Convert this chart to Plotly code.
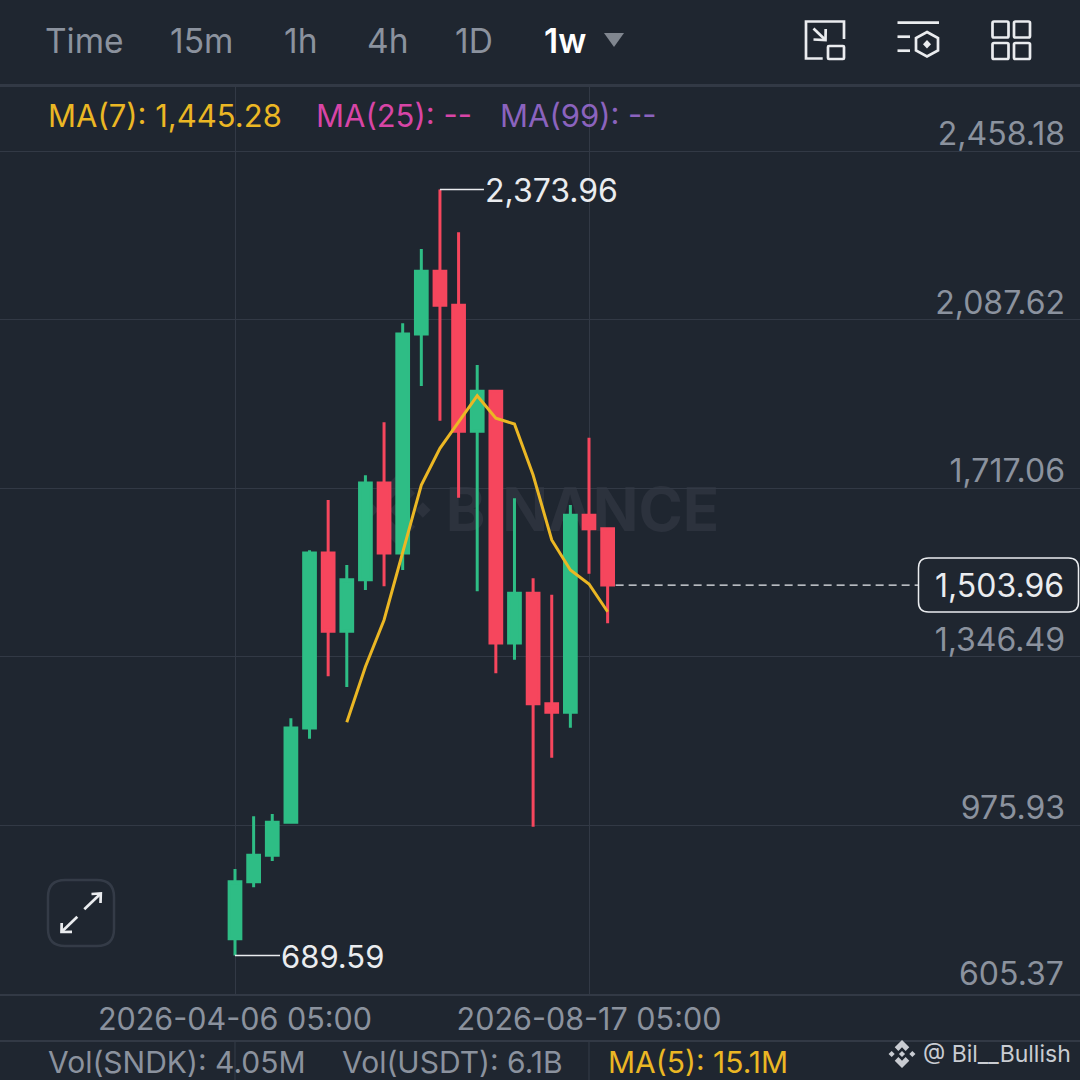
import pandas as pd
import plotly.graph_objects as go

dates = pd.date_range("2026-04-06 05:00", periods=21, freq="7D")
opens = [726.4, 851.7, 909.8, 982.3, 1189.7, 1574.6, 1402.4, 1515.8, 1728.5, 1574.6, 2056.2, 2194.1, 2119.3, 1842.2, 1930.2, 1376.6, 1485.9, 1243.2, 1224.2, 1657.5, 1628.0]
highs = [879.6, 995.5, 1000.6, 1211.0, 1580.5, 1691.1, 1548.2, 1745.4, 1862.0, 2079.7, 2243.1, 2373.96, 2279.8, 1988.0, 1933.0, 1694.9, 1518.9, 1482.9, 1680.1, 1828.1, 1630.2]
lows = [689.59, 839.4, 897.2, 982.3, 1166.2, 1303.4, 1279.9, 1493.2, 1501.3, 1537.2, 1941.8, 1865.5, 1696.2, 1490.3, 1310.0, 1339.9, 972.6, 1124.4, 1190.4, 1529.0, 1420.0]
closes = [851.7, 909.8, 982.3, 1189.7, 1574.6, 1402.4, 1515.8, 1728.5, 1574.6, 2056.2, 2194.1, 2119.3, 1842.2, 1930.2, 1376.6, 1485.9, 1243.2, 1224.2, 1657.5, 1628.0, 1503.96]
ma7 = [None] * 6 + [1202.2, 1324.5, 1427.2, 1576.8, 1724.1, 1804.8, 1862.7, 1920.5, 1870.8, 1858.3, 1746.1, 1603.2, 1537.2, 1506.4, 1445.28]

price_ticks = [605.37, 975.93, 1346.49, 1717.06, 2087.62, 2458.18]
price_labels = ["605.37", "975.93", "1,346.49", "1,717.06", "2,087.62", "2,458.18"]
date_ticks = ["2026-04-06 05:00", "2026-08-17 05:00"]
last_price = 1503.96

BG = "#1F2630"
GRID = "#323945"
UP = "#2EBD85"
DOWN = "#F6465D"
YELLOW = "#EBB724"
MUTED = "#8B929E"
WHITE = "#EAECEF"
FONT = "Inter"


# screen pixels to paper coordinates, for the app furniture around the chart
def px(x):
    return x / 1080


def py(y):
    return 1 - y / 1080


def poly(points, close=False):
    d = "M" + " L".join(f"{px(x):.5f},{py(y):.5f}" for x, y in points)
    return d + (" Z" if close else "")


def round_rect(x0, y0, x1, y1, r):
    return (
        f"M{px(x0 + r):.5f},{py(y0):.5f} L{px(x1 - r):.5f},{py(y0):.5f} "
        f"Q{px(x1):.5f},{py(y0):.5f} {px(x1):.5f},{py(y0 + r):.5f} "
        f"L{px(x1):.5f},{py(y1 - r):.5f} Q{px(x1):.5f},{py(y1):.5f} {px(x1 - r):.5f},{py(y1):.5f} "
        f"L{px(x0 + r):.5f},{py(y1):.5f} Q{px(x0):.5f},{py(y1):.5f} {px(x0):.5f},{py(y1 - r):.5f} "
        f"L{px(x0):.5f},{py(y0 + r):.5f} Q{px(x0):.5f},{py(y0):.5f} {px(x0 + r):.5f},{py(y0):.5f} Z"
    )


shapes = []
annotations = []


def stroke(d, color=WHITE, width=2.7, fill="rgba(0,0,0,0)", layer="above"):
    shapes.append(dict(type="path", xref="paper", yref="paper", path=d, layer=layer,
                       line=dict(color=color, width=width), fillcolor=fill))


def solid(d, color, layer="above"):
    shapes.append(dict(type="path", xref="paper", yref="paper", path=d, layer=layer,
                       line=dict(width=0), fillcolor=color))


def label(text, x, y, color=MUTED, size=30, anchor="left", weight=None):
    annotations.append(dict(text=text, xref="paper", yref="paper", x=px(x), y=py(y), xanchor=anchor,
                            yanchor="middle", showarrow=False, borderpad=0,
                            font=dict(family=FONT, size=size, color=color, weight=weight)))


def binance_logo(cx, cy, r, color, layer="above"):
    top = [(0, -1), (0.52, -0.48), (0.26, -0.22), (0, -0.48), (-0.26, -0.22), (-0.52, -0.48)]
    solid(poly([(cx + a * r, cy + b * r) for a, b in top], True), color, layer)
    solid(poly([(cx + a * r, cy - b * r) for a, b in top], True), color, layer)
    for ox in (-0.74, 0, 0.74):
        d = 0.22
        solid(poly([(cx + (ox - d) * r, cy), (cx + ox * r, cy - d * r),
                    (cx + (ox + d) * r, cy), (cx + ox * r, cy + d * r)], True), color, layer)


# separators of the app rows
for sep_y, sep_w in ((85.5, 3), (1041, 2)):
    stroke(poly([(0, sep_y), (1080, sep_y)]), GRID, sep_w)

# vertical grid lines carry on through the volume row
for d in date_ticks:
    shapes.append(dict(type="line", xref="x", yref="paper", x0=d, x1=d, y0=py(1041), y1=0,
                       line=dict(color=GRID, width=1.2)))

# watermark sits under the candles
shapes.append(dict(type="rect", xref="paper", yref="paper", x0=px(440), x1=px(725), y0=py(537), y1=py(477),
                   layer="below", line=dict(width=0), fillcolor="rgba(0,0,0,0)",
                   label=dict(text="BINANCE", textposition="middle center",
                              font=dict(family=FONT, size=60, color="#2C323D", weight=700))))
binance_logo(397, 510, 35, "#2C323D", "below")

# top tabs
for text, x in (("Time", 44), ("15m", 169), ("1h", 283), ("4h", 366), ("1D", 454)):
    label(text, x, 41, MUTED, 33.5)
label("1w", 543, 41, "#FFFFFF", 33.5, weight=600)
solid(poly([(604, 33), (624, 33), (614, 47)], True), "#80868F")

# legend row
label("MA(7): 1,445.28", 47, 116, YELLOW, 31)
label("MA(25): --", 315, 116, "#D845A6", 31)
label("MA(99): --", 499, 116, "#8B63BE", 31)

# top-right icons
stroke(poly([(822.7, 58.5), (806, 58.5), (806, 21.5), (844, 21.5), (844, 39)]))
stroke(round_rect(828, 46, 844, 59, 1))
stroke(poly([(813.5, 28.5), (825.5, 40)]))
stroke(poly([(813.5, 39.5), (825.5, 40), (825.7, 29)]))
stroke(poly([(897.5, 22.7), (939, 22.7)]))
stroke(poly([(897.5, 36.7), (910, 36.7)]))
stroke(poly([(897.5, 50.7), (910, 50.7)]))
stroke(poly([(927, 32), (938, 38), (938, 50.5), (927, 56.5), (916, 50.5), (916, 38)], True))
solid(poly([(927, 40), (931, 44.2), (927, 48.4), (923, 44.2)], True), WHITE)
for x0, x1 in ((992.5, 1008.5), (1014, 1030)):
    for y0, y1 in ((21.5, 37.5), (43, 59)):
        stroke(round_rect(x0, y0, x1, y1, 1.5))

# expand button
stroke(round_rect(48, 880, 114, 946, 17), "#343B47", 2.5)
stroke(poly([(84.3, 909.3), (100.5, 893.8)]))
stroke(poly([(91.5, 894), (100.8, 893.5), (100.5, 903)]))
stroke(poly([(77.3, 916.7), (61.5, 932)]))
stroke(poly([(61.7, 923), (61.5, 932), (72, 931.8)]))

# bottom row
label("Vol(SNDK): 4.05M", 47, 1062, MUTED, 30)
label("Vol(USDT): 6.1B", 341, 1062, MUTED, 30)
label("MA(5): 15.1M", 607, 1062, YELLOW, 30)
binance_logo(902, 1054, 14, "#C9CCD2")
label("@ Bil__Bullish", 922, 1054, "#C9CCD2", 23)

# high / low markers and the last price line
hi = max(highs)
lo = min(lows)
shapes.append(dict(type="line", xref="x", yref="y", xsizemode="pixel", xanchor=dates[highs.index(hi)],
                   x0=0, x1=44, y0=hi, y1=hi, line=dict(color=WHITE, width=1.5)))
shapes.append(dict(type="line", xref="x", yref="y", xsizemode="pixel", xanchor=dates[lows.index(lo)],
                   x0=0, x1=45, y0=lo, y1=lo, line=dict(color=WHITE, width=1.5)))
shapes.append(dict(type="line", xref="x", yref="y", xsizemode="pixel", xanchor=dates[-1],
                   x0=8, x1=311, y0=last_price, y1=last_price, line=dict(color=WHITE, width=1.3, dash="8px,5px")))
annotations.append(dict(text=f"{hi:,.2f}", x=dates[highs.index(hi)], y=hi, xref="x", yref="y", xanchor="left",
                        yanchor="middle", xshift=44, yshift=-1, showarrow=False, borderpad=0,
                        font=dict(family=FONT, size=32, color=WHITE)))
annotations.append(dict(text=f"{lo:,.2f}", x=dates[lows.index(lo)], y=lo, xref="x", yref="y", xanchor="left",
                        yanchor="middle", xshift=45, yshift=-1, showarrow=False, borderpad=0,
                        font=dict(family=FONT, size=31, color=WHITE)))

# plotly drops an inside tick label at the very end of the axis, so this one is placed by hand
annotations.append(dict(text=price_labels[0], x=px(1065), xref="paper", y=price_ticks[0], yref="y", xanchor="right",
                        yanchor="middle", yshift=20, showarrow=False, borderpad=0,
                        font=dict(family=FONT, size=32, color=MUTED)))

# last price tag
stroke(round_rect(918.5, 558, 1078.5, 612, 10), WHITE, 1.5, fill=BG)
annotations.append(dict(text=f"{last_price:,.2f}", x=px(999), xref="paper", y=last_price, yref="y",
                        xanchor="center", yanchor="middle", showarrow=False, borderpad=0,
                        font=dict(family=FONT, size=32, color=WHITE)))

fig = go.Figure()
fig.add_trace(go.Candlestick(
    x=dates, open=opens, high=highs, low=lows, close=closes, whiskerwidth=0, hoverinfo="skip",
    increasing=dict(line=dict(color=UP, width=3), fillcolor=UP),
    decreasing=dict(line=dict(color=DOWN, width=3), fillcolor=DOWN),
))
fig.add_trace(go.Scatter(x=dates, y=ma7, mode="lines", line=dict(color=YELLOW, width=3), hoverinfo="skip"))

# 354 px between the two date ticks, which are 133 days apart
day_px = 354 / 133
t0 = pd.Timestamp(date_ticks[0])
x_range = [t0 - pd.Timedelta(days=235 / day_px), t0 + pd.Timedelta(days=845 / day_px)]
per_px = (price_ticks[5] - price_ticks[0]) / (168.5 * 5)

fig.update_layout(
    width=1080, height=1080, margin=dict(l=0, r=0, t=0, b=0), showlegend=False,
    paper_bgcolor=BG, plot_bgcolor=BG, boxgap=0.1, shapes=shapes, annotations=annotations,
    xaxis=dict(type="date", range=x_range, tickvals=date_ticks, ticktext=date_ticks, rangeslider=dict(visible=False),
               showgrid=True, gridcolor=GRID, gridwidth=1.2, zeroline=False, showline=True, linecolor=GRID, linewidth=2,
               ticks="", ticklabelstandoff=-2, tickfont=dict(family=FONT, size=30.5, color=MUTED)),
    yaxis=dict(range=[price_ticks[0], price_ticks[5] + 65.7 * per_px], domain=[py(993.7), py(85.5)], side="right",
               tickvals=price_ticks[1:], ticktext=price_labels[1:], ticklabelposition="inside", ticks="", ticklabelstandoff=12,
               ticklabelshift=-17, showgrid=True, gridcolor=GRID, gridwidth=1.2, zeroline=False, showline=False,
               tickfont=dict(family=FONT, size=32, color=MUTED)),
)

fig.write_html("out.html", post_script="document.body.style.margin='0';", config=dict(displayModeBar=False))
